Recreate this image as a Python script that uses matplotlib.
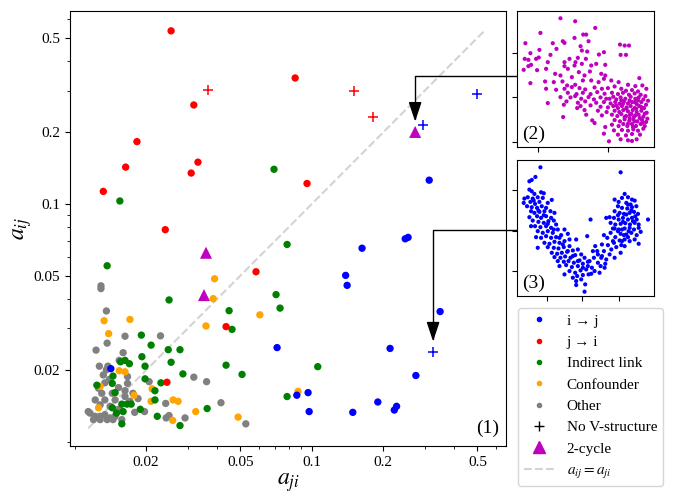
import numpy as np
import matplotlib
matplotlib.use("Agg")
import matplotlib.pyplot as plt
from matplotlib.lines import Line2D
from matplotlib.ticker import LogLocator, NullFormatter

plt.rcParams['font.family'] = ['Liberation Serif', 'DejaVu Serif']
plt.rcParams['mathtext.fontset'] = 'stix'

# (a_ji, a_ij) pairs per edge type
blue_pts = [(0.313, 0.126), (0.163, 0.0652), (0.248, 0.0714), (0.255, 0.0724), (0.139, 0.0501),
            (0.141, 0.0455), (0.348, 0.0353), (0.0714, 0.0249), (0.214, 0.0247), (0.275, 0.0190),
            (0.0865, 0.0157), (0.0965, 0.0161), (0.0975, 0.0134), (0.149, 0.0133), (0.190, 0.0147),
            (0.228, 0.0141), (0.223, 0.0136), (0.0142, 0.0203)]
red_pts = [(0.0255, 0.535), (0.0851, 0.339), (0.0318, 0.261), (0.0183, 0.183), (0.0164, 0.143),
           (0.0331, 0.150), (0.0310, 0.135), (0.0132, 0.113), (0.0955, 0.122), (0.0241, 0.078),
           (0.0582, 0.0519), (0.0435, 0.0305), (0.0245, 0.0178)]
green_pts = [(0.0155, 0.103), (0.0693, 0.140), (0.0787, 0.0676), (0.0137, 0.0550), (0.0250, 0.0395),
             (0.0707, 0.0416), (0.0735, 0.0365), (0.0448, 0.0356), (0.0461, 0.0297), (0.0191, 0.0281),
             (0.0210, 0.0255), (0.0248, 0.0244), (0.0278, 0.0244), (0.0192, 0.0228), (0.0255, 0.0216),
             (0.0198, 0.0208), (0.0435, 0.0210), (0.106, 0.0207), (0.0286, 0.0193), (0.0508, 0.0192),
             (0.0198, 0.0184), (0.0231, 0.0177), (0.0218, 0.0164), (0.0218, 0.0150), (0.0787, 0.0155),
             (0.0362, 0.0138), (0.0223, 0.0128), (0.0278, 0.0117), (0.0156, 0.0217), (0.0163, 0.0220),
             (0.0170, 0.0213), (0.0124, 0.0173), (0.0144, 0.0176), (0.0148, 0.0161), (0.0158, 0.0144),
             (0.0166, 0.0144), (0.0173, 0.0144), (0.0189, 0.0137), (0.0144, 0.0139), (0.0150, 0.0132),
             (0.0160, 0.0134), (0.0158, 0.0119), (0.0145, 0.0189)]
orange_pts = [(0.0389, 0.0485), (0.0384, 0.0400), (0.0133, 0.0323), (0.0171, 0.0327), (0.0139, 0.0285),
              (0.0604, 0.0342), (0.0358, 0.0307), (0.0154, 0.0199), (0.0163, 0.0197), (0.0212, 0.0167),
              (0.0178, 0.0157), (0.0210, 0.0148), (0.0260, 0.0150), (0.0273, 0.0148), (0.0324, 0.0134),
              (0.0489, 0.0127), (0.0259, 0.0123), (0.0875, 0.0163), (0.0126, 0.0139), (0.0128, 0.0171)]
gray_pts = [(0.0129, 0.0453), (0.0129, 0.0441), (0.0136, 0.0355), (0.0137, 0.0260), (0.0123, 0.0243),
            (0.0163, 0.0278), (0.0160, 0.0237), (0.0230, 0.0279), (0.0127, 0.0208), (0.0154, 0.0220),
            (0.0318, 0.0187), (0.0360, 0.0179), (0.0206, 0.0179), (0.0414, 0.0146), (0.0242, 0.0145),
            (0.0197, 0.0134), (0.0179, 0.0133), (0.0250, 0.0129), (0.0243, 0.0126), (0.0292, 0.0126),
            (0.0527, 0.0119), (0.0138, 0.0208), (0.0136, 0.0201), (0.0132, 0.0191), (0.0140, 0.0183),
            (0.0134, 0.0177), (0.0167, 0.0176), (0.0153, 0.0169), (0.0126, 0.0168), (0.0163, 0.0164),
            (0.0130, 0.0160), (0.0144, 0.0160), (0.0176, 0.0160), (0.0122, 0.0150), (0.0134, 0.0150),
            (0.0185, 0.0152), (0.0171, 0.0148), (0.0128, 0.0143), (0.0141, 0.0141), (0.0116, 0.0132),
            (0.0122, 0.0128), (0.0128, 0.0128), (0.0134, 0.0130), (0.0141, 0.0126), (0.0148, 0.0128),
            (0.0128, 0.0124), (0.0137, 0.0124), (0.0145, 0.0124), (0.0158, 0.0124), (0.0167, 0.0188),
            (0.0120, 0.0124), (0.0114, 0.0134), (0.0153, 0.0137), (0.0163, 0.0155), (0.0148, 0.0150)]
red_plus = [(0.0365, 0.302), (0.151, 0.299), (0.181, 0.232)]
blue_plus = [(0.498, 0.291), (0.295, 0.215), (0.325, 0.0239)]
cycle_pts = [(0.273, 0.201), (0.0358, 0.0624), (0.0351, 0.0414)]

# inset (2): joint sample for the 2-cycle edge, arbitrary units
inset2_pts = [(138,392),(182,383),(242,363),(78,348),(206,343),(215,343),(180,333),(145,323),(150,318),(222,323),
    (33,317),(115,317),(316,313),(330,310),(343,310),(198,308),(126,300),(75,297),(202,295),(218,292),
    (48,287),(268,290),(253,283),(318,282),(334,282),(108,282),(31,270),(42,267),(65,270),(73,274),
    (165,270),(190,273),(214,270),(100,260),(150,260),(183,260),(245,255),(272,252),(42,248),(50,252),
    (28,237),(68,236),(95,240),(150,248),(160,240),(180,250),(202,255),(230,250),(193,230),(226,232),
    (260,225),(272,220),(138,220),(122,225),(172,215),(210,220),(92,202),(48,197),(118,200),(144,202),
    (158,190),(182,192),(205,205),(230,205),(252,200),(268,210),(290,205),(312,200),(374,212),(383,190),
    (95,180),(125,177),(150,180),(100,137),(148,132),(146,95),(188,122),(215,102),(233,85),(240,77),
    (272,65),(268,45),(283,22),(352,23),(300,187),(340,192),(362,188),(395,180),(400,144),
    (172,185),(195,182),(212,178),(240,184),(262,180),(280,182),(320,180),(334,174),(352,176),(370,172),
    (160,168),(186,164),(205,168),(228,164),(248,170),(270,165),(292,168),(310,164),(325,168),(343,162),
    (360,166),(378,162),(392,158),(138,155),(168,154),(182,158),(200,150),(222,155),(238,148),(258,154),
    (275,150),(296,156),(305,148),(318,154),(332,150),(348,156),(362,150),(372,154),(386,148),
    (156,142),(190,138),(212,142),(245,138),(268,140),(288,136),(302,140),(315,135),(328,142),(340,136),
    (352,140),(366,134),(380,140),(394,132),(198,128),(228,130),(258,126),(280,124),(296,128),(310,122),
    (322,128),(336,124),(348,128),(360,122),(374,128),(388,122),(210,116),(250,114),(276,110),(300,114),
    (314,110),(326,116),(340,112),(354,116),(366,110),(380,114),(396,108),(262,100),(292,102),(308,98),
    (320,104),(334,98),(346,102),(358,96),(372,102),(386,96),(398,90),(300,86),(316,82),(330,88),
    (344,84),(356,88),(368,82),(382,86),(394,80),(292,72),(312,68),(326,74),(338,68),(352,74),
    (364,68),(378,74),(390,68),(322,56),(340,54),(356,58),(370,54),(386,60),(310,42),(334,40),
    (352,44),(376,42),(298,55),(318,28),(366,28),(340,25),
    (325,135),(345,145),(360,140),(335,120),(350,105),(365,120),(330,95),(345,92),(360,82),(375,92),
    (340,75),(355,65),(320,145),(305,130),(285,150),(370,145),(380,125),(390,105),(362,100),(384,78)]

# inset (3): joint sample for the i -> j edge without V-structure
inset3_pts = [(78,392),(63,363),(52,354),(45,350),(318,377),
    (45,325),(52,320),(60,312),(80,317),(88,314),(30,298),(40,302),(55,298),(70,302),(85,300),
    (28,285),(48,288),(62,282),(75,288),(100,285),(112,294),(38,275),(52,272),(68,270),(82,275),
    (95,270),(50,260),(60,255),(75,258),(90,260),(108,260),(120,255),(68,245),(80,240),(95,245),
    (110,240),(45,242),(55,232),(72,228),(88,225),(102,230),(118,232),(62,215),(78,212),(95,215),
    (110,210),(125,220),(50,215),(70,200),(85,195),(100,200),(115,195),(130,205),(150,205),(65,182),
    (80,180),(95,185),(110,180),(125,182),(140,188),(160,192),(90,165),(105,162),(120,168),(135,165),
    (150,170),(165,175),(70,150),(100,152),(118,150),(132,148),(148,152),(165,155),(185,175),
    (112,135),(128,132),(142,135),(158,138),(175,142),(190,145),(120,122),(138,120),(152,124),(168,120),
    (182,128),(200,130),(130,110),(148,108),(162,110),(178,105),(195,112),(210,120),(135,95),(155,98),
    (172,92),(190,95),(205,102),(220,108),(150,70),(165,80),(182,75),(198,82),(215,85),(232,90),
    (175,60),(188,65),(205,68),(222,70),(185,50),(200,55),(212,40),(185,38),(210,18),
    (228,235),(218,185),(238,120),(250,105),(240,80),(258,95),(272,102),(262,125),(275,115),(285,130),
    (268,140),(250,130),(290,145),(300,120),(242,155),(262,160),(280,158),(295,170),(278,180),(302,182),
    (268,188),(288,195),(300,208),(310,200),(322,205),(318,135),(305,152),(320,158),(322,170),(340,182),
    (328,188),(235,140),(225,110),(255,75),(230,72),(270,90),(260,120),(248,140),
    (300,295),(312,288),(322,300),(330,312),(340,302),(352,295),(360,292),(335,285),(348,280),(310,275),
    (322,270),(338,268),(352,272),(365,275),(300,260),(315,255),(328,252),(345,255),(358,258),(370,252),
    (285,242),(298,240),(312,235),(325,240),(340,235),(352,240),(366,235),(275,240),(288,225),(302,220),
    (318,222),(332,224),(346,220),(360,225),(372,220),(400,235),(295,208),(312,205),(330,208),(345,210),
    (358,205),(372,210),(318,192),(335,190),(350,195),(366,188),(378,198),(330,175),(345,170),(360,175),
    (372,162),(330,155),(298,165),(315,172),
    (58,292),(72,262),(88,248),(100,222),(118,205),(135,180),(145,160),(160,140),(175,125),(190,110),
    (205,90),(220,95),(335,250),(350,262),(362,245),(340,280),(325,228),(355,230),(342,200),(310,248)]

major_ticks = [0.02, 0.05, 0.1, 0.2, 0.5]
major_labels = ['0.02', '0.05', '0.1', '0.2', '0.5']

fig = plt.figure(figsize=(6.77, 5.03), dpi=100)
ax = fig.add_axes([0.1034, 0.1133, 0.644, 0.865])
ax2 = fig.add_axes([0.7637, 0.7078, 0.2024, 0.2704])
ax3 = fig.add_axes([0.7637, 0.4115, 0.2024, 0.2704])

all_pts = np.array(blue_pts + red_pts + green_pts + orange_pts + gray_pts + red_plus + blue_plus + cycle_pts)
lo, hi = all_pts.min(), all_pts.max()
ax.plot([lo, hi], [lo, hi], '--', color='lightgray', lw=1.5, zorder=1)

dot_s = 28
for pts, c in [(gray_pts, 'gray'), (orange_pts, 'orange'), (green_pts, 'g'), (red_pts, 'r'), (blue_pts, 'b')]:
    p = np.array(pts)
    ax.scatter(p[:, 0], p[:, 1], s=dot_s, color=c, edgecolors='none', zorder=2)
p = np.array(red_plus)
ax.scatter(p[:, 0], p[:, 1], marker='+', s=60, color='r', linewidths=1.1, zorder=3)
p = np.array(blue_plus)
ax.scatter(p[:, 0], p[:, 1], marker='+', s=60, color='b', linewidths=1.1, zorder=3)
p = np.array(cycle_pts)
ax.scatter(p[:, 0], p[:, 1], marker='^', s=75, color='m', edgecolors='none', zorder=3)

ax.set_xscale('log')
ax.set_yscale('log')
ax.set_xlim(0.00955, 0.66)
ax.set_ylim(0.0096, 0.649)
ax.set_xticks(major_ticks)
ax.set_xticklabels(major_labels)
ax.set_yticks(major_ticks)
ax.set_yticklabels(major_labels)
for axis in (ax.xaxis, ax.yaxis):
    axis.set_minor_locator(LogLocator(subs='all'))
    axis.set_minor_formatter(NullFormatter())
ax.tick_params(labelsize=11)
ax.set_xlabel(r'$a_{ji}$', fontsize=17, labelpad=2)
ax.set_ylabel(r'$a_{ij}$', fontsize=17, labelpad=0)
ax.text(0.985, 0.02, '(1)', transform=ax.transAxes, ha='right', va='bottom', fontsize=14)

# insets
for a, pts, c, lab in [(ax2, inset2_pts, 'm', '(2)'), (ax3, inset3_pts, 'b', '(3)')]:
    p = np.array(pts)
    a.scatter(p[:, 0], p[:, 1], s=9, color=c, edgecolors='none')
    a.set_xlim(8, 418)
    a.set_ylim(5, 414)
    a.text(0.04, 0.03, lab, transform=a.transAxes, ha='left', va='bottom', fontsize=14)
ax2.set_xticks([72, 279])
ax2.set_yticks([20, 155, 289])
ax3.set_xticks([97, 203, 312])
ax3.set_yticks([80, 200, 323])
for a in (ax2, ax3):
    a.set_xticklabels([])
    a.set_yticklabels([])

arrow_kw = dict(arrowstyle='-|>,head_length=0.6,head_width=0.2', color='k', lw=1,
                shrinkA=0, shrinkB=7.5, mutation_scale=20,
                connectionstyle='angle,angleA=0,angleB=90,rad=0')
ax.annotate('', xy=cycle_pts[0], xycoords='data', xytext=(0, 0.522),
            textcoords=ax2.transAxes, arrowprops=arrow_kw, annotation_clip=False)
ax.annotate('', xy=blue_plus[2], xycoords='data', xytext=(0, 0.485),
            textcoords=ax3.transAxes, arrowprops=arrow_kw, annotation_clip=False)

handles = [
    Line2D([], [], ls='none', marker='o', ms=3, color='b', label='i → j'),
    Line2D([], [], ls='none', marker='o', ms=3, color='r', label='j → i'),
    Line2D([], [], ls='none', marker='o', ms=3, color='g', label='Indirect link'),
    Line2D([], [], ls='none', marker='o', ms=3, color='orange', label='Confounder'),
    Line2D([], [], ls='none', marker='o', ms=3, color='gray', label='Other'),
    Line2D([], [], ls='none', marker='+', ms=7, color='k', label='No V-structure'),
    Line2D([], [], ls='none', marker='^', ms=8, color='m', label='2-cycle'),
    Line2D([], [], ls='--', lw=1.5, color='lightgray', label=r'$a_{ij} = a_{ji}$'),
]
fig.legend(handles=handles, loc='upper left', bbox_to_anchor=(0.765, 0.388),
           borderaxespad=0, fontsize=11)

fig.savefig('out.png', dpi=100)
